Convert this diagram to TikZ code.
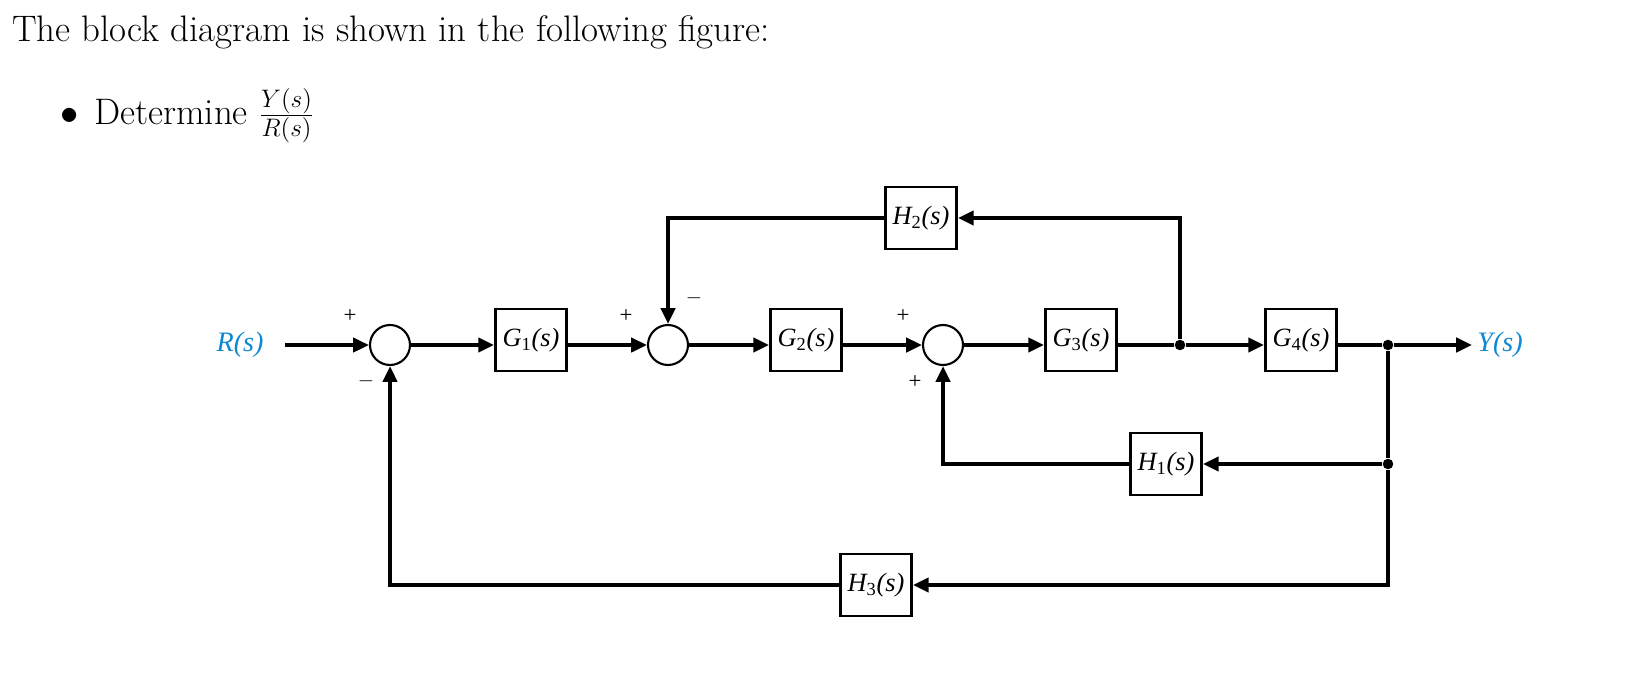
\documentclass[tikz,border=0pt]{standalone}
\usepackage{fontspec}
\newfontfamily\tms{Liberation Serif}
\usetikzlibrary{arrows.meta}
\begin{document}
\begin{tikzpicture}[x=0.02cm,y=-0.02cm,
  blk/.style={draw,line width=1.6pt,minimum width=1.42cm,minimum height=1.24cm,inner sep=0pt,font=\tms\fontsize{15}{16}\selectfont\itshape},
  sum/.style={draw,circle,line width=1.2pt,minimum size=0.8cm,inner sep=0pt},
  w/.style={line width=2.4pt},
  a/.style={w,-{Triangle[length=9pt,width=8pt]}},
  dot/.style={circle,fill,inner sep=0pt,minimum size=6pt},
  sg/.style={font=\tms\fontsize{13}{14}\selectfont}]
\useasboundingbox (0,0) rectangle (1646,686);
\node[anchor=west,font=\fontsize{21}{24}\selectfont] (t) at (6,32) {The block diagram is shown in the following figure:};
\node[font=\fontsize{21}{24}\selectfont] (b) at (70,116) {$\bullet$};
\node[anchor=west,font=\fontsize{21}{24}\selectfont] (d) at (88,116) {Determine $\frac{Y(s)}{R(s)}$};
\node[text=cyan!70!blue,font=\tms\fontsize{16}{17}\selectfont\itshape] (R) at (240,345) {R(s)};
\node[sum] (s1) at (390,345) {};
\node[blk] (G1) at (531,340) {G\textsubscript{\upshape 1}(s)};
\node[sum] (s2) at (668,345) {};
\node[blk] (G2) at (806,340) {G\textsubscript{\upshape 2}(s)};
\node[sum] (s3) at (943,345) {};
\node[blk] (G3) at (1081,340) {G\textsubscript{\upshape 3}(s)};
\node[blk] (G4) at (1301,340) {G\textsubscript{\upshape 4}(s)};
\node[blk] (H2) at (921,218) {H\textsubscript{\upshape 2}(s)};
\node[blk] (H1) at (1166,464) {H\textsubscript{\upshape 1}(s)};
\node[blk] (H3) at (876,585) {H\textsubscript{\upshape 3}(s)};
\node[text=cyan!70!blue,font=\tms\fontsize{16}{17}\selectfont\itshape] (Y) at (1500,345) {Y(s)};
\coordinate (Rs) at (285,345);
\node[dot] (p1) at (1180,345) {};
\node[dot] (p2) at (1388,345) {};
\node[dot] (p3) at (1388,464) {};
\coordinate (Ye) at (1472,345);
\draw[a] (Rs) -- (s1);
\draw[a] (s1) -- (G1.west|-s1);
\draw[a] (G1.east|-s1) -- (s2);
\draw[a] (s2) -- (G2.west|-s2);
\draw[a] (G2.east|-s2) -- (s3);
\draw[a] (s3) -- (G3.west|-s3);
\draw[w] (G3.east|-s3) -- (p1);
\draw[a] (p1) -- (G4.west|-p1);
\draw[w] (G4.east|-p1) -- (p2);
\draw[a] (p2) -- (Ye);
\draw[a] (p1) |- (H2.east);
\draw[a] (H2.west) -| (s2.north);
\draw[w] (p2) -- (p3);
\draw[a] (p3) -- (H1.east);
\draw[a] (H1.west) -| (s3.south);
\draw[a] (p3) |- (H3.east);
\draw[a] (H3.west) -| (s1.south);
\node[sg] (m1) at (350,316) {+};
\node[sg] (m2) at (366,381) {$-$};
\node[sg] (m3) at (626,316) {+};
\node[sg] (m4) at (694,298) {$-$};
\node[sg] (m5) at (903,316) {+};
\node[sg] (m6) at (915,382) {+};
\end{tikzpicture}
\end{document}
